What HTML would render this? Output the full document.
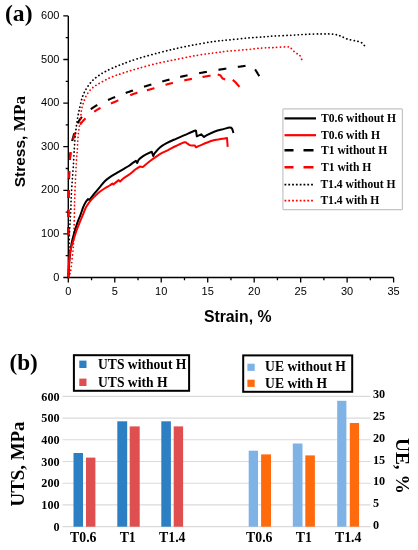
<!DOCTYPE html>
<html><head><meta charset="utf-8"><style>
html,body{margin:0;padding:0;background:#fff;width:418px;height:550px;overflow:hidden}
svg{display:block;will-change:transform}
</style></head><body>
<svg width="418" height="550" viewBox="0 0 418 550">
<rect width="418" height="550" fill="#fff"/>
<text x="5.0" y="21.2" font-family='"Liberation Serif", serif' font-weight="bold" font-size="23.6">(a)</text>
<path d="M68.3,15.9 V277.5 H393.60" fill="none" stroke="#000" stroke-width="1.4"/>
<path d="M63.30,277.50H68.3 M65.70,255.70H68.3 M63.30,233.90H68.3 M65.70,212.10H68.3 M63.30,190.30H68.3 M65.70,168.50H68.3 M63.30,146.70H68.3 M65.70,124.90H68.3 M63.30,103.10H68.3 M65.70,81.30H68.3 M63.30,59.50H68.3 M65.70,37.70H68.3 M63.30,15.90H68.3 M68.30,277.5V282.50 M91.54,277.5V280.30 M114.77,277.5V282.50 M138.01,277.5V280.30 M161.24,277.5V282.50 M184.48,277.5V280.30 M207.71,277.5V282.50 M230.95,277.5V280.30 M254.19,277.5V282.50 M277.42,277.5V280.30 M300.66,277.5V282.50 M323.89,277.5V280.30 M347.13,277.5V282.50 M370.36,277.5V280.30 M393.60,277.5V282.50" fill="none" stroke="#000" stroke-width="1.3"/>
<text x="59.4" y="280.60" text-anchor="end" font-family='"Liberation Sans", sans-serif' font-size="11">0</text>
<text x="59.4" y="237.00" text-anchor="end" font-family='"Liberation Sans", sans-serif' font-size="11">100</text>
<text x="59.4" y="193.40" text-anchor="end" font-family='"Liberation Sans", sans-serif' font-size="11">200</text>
<text x="59.4" y="149.80" text-anchor="end" font-family='"Liberation Sans", sans-serif' font-size="11">300</text>
<text x="59.4" y="106.20" text-anchor="end" font-family='"Liberation Sans", sans-serif' font-size="11">400</text>
<text x="59.4" y="62.60" text-anchor="end" font-family='"Liberation Sans", sans-serif' font-size="11">500</text>
<text x="59.4" y="19.00" text-anchor="end" font-family='"Liberation Sans", sans-serif' font-size="11">600</text>
<text x="68.30" y="295.3" text-anchor="middle" font-family='"Liberation Sans", sans-serif' font-size="11">0</text>
<text x="114.77" y="295.3" text-anchor="middle" font-family='"Liberation Sans", sans-serif' font-size="11">5</text>
<text x="161.24" y="295.3" text-anchor="middle" font-family='"Liberation Sans", sans-serif' font-size="11">10</text>
<text x="207.71" y="295.3" text-anchor="middle" font-family='"Liberation Sans", sans-serif' font-size="11">15</text>
<text x="254.19" y="295.3" text-anchor="middle" font-family='"Liberation Sans", sans-serif' font-size="11">20</text>
<text x="300.66" y="295.3" text-anchor="middle" font-family='"Liberation Sans", sans-serif' font-size="11">25</text>
<text x="347.13" y="295.3" text-anchor="middle" font-family='"Liberation Sans", sans-serif' font-size="11">30</text>
<text x="393.60" y="295.3" text-anchor="middle" font-family='"Liberation Sans", sans-serif' font-size="11">35</text>
<text x="203.9" y="321.8" font-family='"Liberation Sans", sans-serif' font-weight="bold" font-size="15.8">Strain, %</text>
<text transform="translate(25.3,187.3) rotate(-90)" font-weight="bold"><tspan font-family='"Liberation Sans", sans-serif' font-size="15.5">Stress, </tspan><tspan font-family='"Liberation Serif", serif' font-size="17.3">MPa</tspan></text>
<path d="M68.39,234.46 L68.39,232.90 L68.40,231.41 L68.40,230.00 L68.40,228.63 L68.41,227.28 M68.44,217.04 L68.44,215.82 L68.45,214.62 L68.45,213.43 L68.46,212.26 L68.46,211.09 L68.47,209.94 M68.56,198.04 L68.57,197.02 L68.59,196.00 L68.60,195.00 L68.62,194.01 L68.63,193.03 L68.65,192.07 L68.66,191.13 L68.68,190.20 M68.94,179.16 L68.96,178.37 L68.99,177.59 L69.02,176.82 L69.04,176.05 L69.07,175.28 L69.10,174.52 L69.13,173.76 L69.16,173.01 L69.20,172.25 L69.23,171.50 M69.88,159.99 L69.92,159.31 L69.97,158.64 L70.02,157.98 L70.08,157.33 L70.13,156.68 L70.18,156.04 L70.24,155.40 L70.29,154.77 L70.35,154.15 L70.41,153.54 L70.47,152.93 L70.53,152.33 M72.20,141.04 L72.30,140.61 L72.39,140.17 L72.50,139.73 L72.60,139.29 L72.72,138.84 L72.83,138.39 L72.96,137.93 L73.08,137.46 L73.22,136.98 L73.35,136.50 L73.50,136.00 L73.65,135.49 L73.79,134.98 L73.94,134.45 L74.09,133.92 L74.24,133.39 M77.62,123.39 L77.89,122.86 L78.16,122.33 L78.44,121.81 L78.74,121.29 L79.04,120.79 L79.37,120.29 L79.70,119.80 L80.05,119.32 L80.41,118.84 L80.79,118.36 L81.18,117.89 L81.58,117.42 L81.99,116.96 M90.80,109.24 L91.33,108.85 L91.87,108.47 L92.40,108.09 L92.93,107.72 L93.47,107.36 L94.00,107.00 L94.54,106.65 L95.08,106.30 L95.63,105.96 L96.18,105.63 L96.74,105.30 L97.31,104.98 M108.02,99.93 L108.62,99.67 L109.22,99.42 L109.82,99.16 L110.42,98.91 L111.01,98.65 L111.60,98.40 L112.19,98.15 L112.78,97.90 L113.36,97.65 L113.95,97.41 L114.54,97.17 L115.12,96.93 M125.71,92.97 L126.31,92.76 L126.90,92.55 L127.50,92.34 L128.10,92.13 L128.70,91.91 L129.30,91.70 L129.90,91.49 L130.51,91.27 L131.11,91.06 L131.72,90.85 L132.33,90.64 L132.94,90.43 M144.02,86.75 L144.64,86.55 L145.25,86.36 L145.86,86.17 L146.48,85.98 L147.09,85.79 L147.70,85.60 L148.31,85.41 L148.92,85.23 L149.53,85.05 L150.14,84.86 L150.75,84.68 L151.36,84.50 M162.28,81.46 L162.89,81.30 L163.49,81.14 L164.09,80.98 L164.70,80.82 L165.30,80.66 L165.90,80.50 L166.50,80.34 L167.10,80.18 L167.70,80.03 L168.29,79.87 L168.89,79.72 L169.48,79.56 M180.14,76.92 L180.74,76.78 L181.35,76.64 L181.96,76.50 L182.57,76.37 L183.18,76.23 L183.80,76.10 L184.42,75.97 L185.04,75.84 L185.67,75.71 L186.29,75.58 L186.92,75.45 L187.56,75.32 M199.13,73.19 L199.78,73.07 L200.42,72.96 L201.07,72.84 L201.71,72.73 L202.36,72.61 L203.00,72.50 L203.64,72.39 L204.28,72.27 L204.93,72.16 L205.57,72.04 L206.21,71.93 L206.86,71.81 M218.44,69.82 L219.09,69.72 L219.73,69.61 L220.37,69.51 L221.02,69.40 L221.66,69.30 L222.30,69.20 L222.95,69.10 L223.61,68.99 L224.28,68.89 L224.96,68.79 L225.64,68.68 L226.33,68.58 M237.82,66.91 L238.41,66.82 L238.98,66.75 L239.53,66.67 L240.05,66.60 L240.56,66.53 L241.04,66.46 L241.50,66.40 L241.93,66.34 L242.35,66.28 L242.74,66.23 L243.11,66.18 L243.47,66.13 L243.80,66.08 L244.13,66.03 L244.43,65.99 L244.72,65.94 L245.00,65.90 L245.26,65.87 L245.51,65.83 M255.10,69.40 L255.21,69.56 L255.33,69.74 L255.45,69.93 L255.59,70.13 L255.73,70.35 L255.87,70.57 L256.02,70.81 L256.18,71.05 L256.34,71.31 L256.50,71.56 L256.66,71.83 L256.83,72.09 L257.00,72.36 L257.16,72.63 L257.33,72.90 L257.50,73.17 L257.66,73.43 L257.82,73.70 L257.98,73.95 L258.13,74.20 L258.28,74.45 L258.43,74.68 L258.56,74.91 L258.70,75.12 L258.82,75.32 L258.93,75.51 L259.04,75.68 L259.14,75.84 L259.22,75.98 L259.30,76.10" fill="none" stroke="#000" stroke-width="2.1"/>
<path d="M68.51,235.68 L68.50,234.36 L68.50,233.13 L68.50,232.00 L68.50,230.95 L68.50,229.96 L68.49,229.03 L68.49,228.14 M68.48,216.88 L68.48,216.38 L68.48,215.86 L68.48,215.33 L68.49,214.78 L68.49,214.21 L68.50,213.62 L68.50,213.00 L68.51,212.37 L68.51,211.73 L68.52,211.10 L68.52,210.47 L68.53,209.84 L68.54,209.20 M68.73,197.82 L68.74,197.18 L68.75,196.55 L68.76,195.91 L68.78,195.28 L68.79,194.64 L68.80,194.00 L68.81,193.36 L68.82,192.72 L68.83,192.08 L68.84,191.44 L68.85,190.79 L68.86,190.15 M69.08,178.53 L69.10,177.89 L69.12,177.25 L69.14,176.61 L69.16,175.97 L69.18,175.33 L69.20,174.70 L69.22,174.07 L69.24,173.44 L69.26,172.81 L69.28,172.19 L69.30,171.56 L69.31,170.94 M69.80,159.80 L69.85,159.17 L69.91,158.54 L69.98,157.91 L70.04,157.28 L70.12,156.64 L70.20,156.00 L70.28,155.35 L70.37,154.70 L70.46,154.04 L70.55,153.38 L70.64,152.71 L70.74,152.03 M73.07,139.86 L73.24,139.22 L73.42,138.60 L73.61,137.98 L73.80,137.38 L74.00,136.78 L74.20,136.20 L74.41,135.63 L74.62,135.06 L74.83,134.50 L75.05,133.95 L75.27,133.41 L75.50,132.87 L75.73,132.34 M80.12,124.54 L80.45,124.08 L80.78,123.63 L81.13,123.18 L81.49,122.73 L81.85,122.29 L82.22,121.84 L82.60,121.40 L82.99,120.96 L83.39,120.52 L83.80,120.09 L84.23,119.65 L84.66,119.22 L85.10,118.80 L85.55,118.37 M94.10,111.73 L94.63,111.38 L95.17,111.04 L95.70,110.69 L96.23,110.36 L96.77,110.03 L97.30,109.70 L97.83,109.38 L98.37,109.07 L98.91,108.77 L99.45,108.48 L100.00,108.19 L100.54,107.91 M110.87,103.51 L111.47,103.27 L112.07,103.02 L112.68,102.77 L113.28,102.52 L113.89,102.26 L114.50,102.00 L115.12,101.73 L115.74,101.46 L116.37,101.18 L117.00,100.90 L117.65,100.62 L118.29,100.33 M130.23,95.22 L130.87,94.96 L131.51,94.72 L132.14,94.48 L132.77,94.24 L133.39,94.02 L134.00,93.80 L134.60,93.59 L135.20,93.39 L135.79,93.20 L136.37,93.01 L136.95,92.83 L137.52,92.66 M146.91,90.25 L147.47,90.11 L148.03,89.97 L148.60,89.83 L149.16,89.68 L149.74,89.52 L150.32,89.36 L150.90,89.20 L151.49,89.03 L152.08,88.86 L152.67,88.69 L153.27,88.51 L153.86,88.33 L154.46,88.15 M165.49,84.82 L166.10,84.64 L166.72,84.47 L167.34,84.30 L167.96,84.13 L168.58,83.96 L169.20,83.80 L169.82,83.64 L170.44,83.48 L171.06,83.33 L171.68,83.17 L172.31,83.02 L172.93,82.87 M184.26,80.36 L184.88,80.23 L185.51,80.11 L186.13,79.98 L186.76,79.85 L187.38,79.73 L188.00,79.60 L188.63,79.47 L189.27,79.35 L189.92,79.22 L190.58,79.10 L191.25,78.97 L191.93,78.84 M202.49,76.98 L203.06,76.88 L203.61,76.79 L204.14,76.69 L204.64,76.61 L205.12,76.52 L205.57,76.45 L206.00,76.37 L206.40,76.30 L206.77,76.23 L207.12,76.17 L207.44,76.12 L207.74,76.06 L208.02,76.01 L208.28,75.97 L208.52,75.93 L208.74,75.89 L208.94,75.85 L209.13,75.82 L209.30,75.79 L209.45,75.76 L209.60,75.74 L209.73,75.71 L209.85,75.69 L209.96,75.68 L210.06,75.66 L210.15,75.64 L210.24,75.63 L210.32,75.61 L210.39,75.60 L210.46,75.59 L210.53,75.58 M217.7,74.4 L220.2,75.2 L222.7,78.6 L225.2,79.4 M232.8,79.9 L235.5,82.2 L239.5,86.9" fill="none" stroke="#f00" stroke-width="2.1" stroke-linejoin="round"/>
<path d="M68.40,277.50 C68.43,276.25 68.52,273.75 68.60,270.00 C68.68,266.25 68.82,259.53 68.90,255.00 C68.98,250.47 68.98,246.97 69.10,242.80 C69.22,238.63 69.40,233.97 69.60,230.00 C69.80,226.03 70.08,222.83 70.30,219.00 C70.52,215.17 70.73,210.95 70.90,207.00 C71.07,203.05 71.07,199.80 71.30,195.30 C71.53,190.80 71.95,185.00 72.30,180.00 C72.65,175.00 73.12,169.63 73.40,165.30 C73.68,160.97 73.82,157.23 74.00,154.00 C74.18,150.77 74.27,149.15 74.50,145.90 C74.73,142.65 75.10,137.68 75.40,134.50 C75.70,131.32 75.95,129.45 76.30,126.80 C76.65,124.15 77.05,121.25 77.50,118.60 C77.95,115.95 78.32,114.05 79.00,110.90 C79.68,107.75 80.77,102.68 81.60,99.70 C82.43,96.72 83.05,95.08 84.00,93.00 C84.95,90.92 85.95,89.20 87.30,87.20 C88.65,85.20 90.35,82.83 92.10,81.00 C93.85,79.17 95.57,77.80 97.80,76.20 C100.03,74.60 102.43,73.02 105.50,71.40 C108.57,69.78 113.30,67.75 116.20,66.50 C119.10,65.25 119.40,65.18 122.90,63.90 C126.40,62.62 131.15,60.67 137.20,58.80 C143.25,56.93 152.37,54.48 159.20,52.70 C166.03,50.92 171.85,49.50 178.20,48.10 C184.55,46.70 191.27,45.42 197.30,44.30 C203.33,43.18 209.20,42.12 214.40,41.40 C219.60,40.68 223.07,40.55 228.50,40.00 C233.93,39.45 241.20,38.62 247.00,38.10 C252.80,37.58 258.88,37.23 263.30,36.90 C267.72,36.57 269.02,36.37 273.50,36.10 C277.98,35.83 284.95,35.58 290.20,35.30 C295.45,35.02 299.75,34.63 305.00,34.40 C310.25,34.17 316.95,33.92 321.70,33.90 C326.45,33.88 330.42,33.97 333.50,34.30 C336.58,34.63 337.97,35.13 340.20,35.90 C342.43,36.67 344.40,38.07 346.90,38.90 C349.40,39.73 352.97,40.37 355.20,40.90 C357.43,41.43 358.95,41.55 360.30,42.10 C361.65,42.65 362.52,43.45 363.30,44.20 C364.08,44.95 364.72,46.20 365.00,46.60" fill="none" stroke="#000" stroke-width="1.75" stroke-linecap="round" stroke-dasharray="0.15 3.65"/>
<path d="M68.80,277.50 C68.97,276.95 69.50,275.23 69.80,274.20 C70.10,273.17 70.30,273.00 70.60,271.30 C70.90,269.60 71.30,266.62 71.60,264.00 C71.90,261.38 72.12,258.27 72.40,255.60 C72.68,252.93 73.10,250.43 73.30,248.00 C73.50,245.57 73.48,244.00 73.60,241.00 C73.72,238.00 73.88,233.83 74.00,230.00 C74.12,226.17 74.22,221.83 74.30,218.00 C74.38,214.17 74.43,210.23 74.50,207.00 C74.57,203.77 74.60,201.82 74.70,198.60 C74.80,195.38 74.95,191.33 75.10,187.70 C75.25,184.07 75.42,180.43 75.60,176.80 C75.78,173.17 76.02,169.20 76.20,165.90 C76.38,162.60 76.53,159.35 76.70,157.00 C76.87,154.65 77.05,153.88 77.20,151.80 C77.35,149.72 77.45,147.07 77.60,144.50 C77.75,141.93 77.87,138.97 78.10,136.40 C78.33,133.83 78.65,131.83 79.00,129.10 C79.35,126.37 79.85,122.52 80.20,120.00 C80.55,117.48 80.87,115.80 81.10,114.00 C81.33,112.20 81.20,111.12 81.60,109.20 C82.00,107.28 82.70,104.80 83.50,102.50 C84.30,100.20 85.13,97.63 86.40,95.40 C87.67,93.17 89.35,90.87 91.10,89.10 C92.85,87.33 94.82,86.15 96.90,84.80 C98.98,83.45 101.22,82.27 103.60,81.00 C105.98,79.73 108.15,78.47 111.20,77.20 C114.25,75.93 117.57,74.82 121.90,73.40 C126.23,71.98 130.98,70.45 137.20,68.70 C143.42,66.95 152.37,64.50 159.20,62.90 C166.03,61.30 171.85,60.37 178.20,59.10 C184.55,57.83 191.27,56.35 197.30,55.30 C203.33,54.25 209.17,53.50 214.40,52.80 C219.63,52.10 223.27,51.63 228.70,51.10 C234.13,50.57 241.40,50.12 247.00,49.60 C252.60,49.08 257.88,48.33 262.30,48.00 C266.72,47.67 269.12,47.77 273.50,47.60 C277.88,47.43 285.53,46.72 288.60,47.00 C291.67,47.28 290.78,48.35 291.90,49.30 C293.02,50.25 294.18,51.87 295.30,52.70 C296.42,53.53 297.73,53.67 298.60,54.30 C299.47,54.93 299.97,55.62 300.50,56.50 C301.03,57.38 301.58,59.08 301.80,59.60" fill="none" stroke="#f00" stroke-width="1.75" stroke-linecap="round" stroke-dasharray="0.15 3.65"/>
<path d="M68.50,277.50 C68.57,275.92 68.68,271.58 68.90,268.00 C69.12,264.42 69.45,259.50 69.80,256.00 C70.15,252.50 70.63,249.43 71.00,247.00 C71.37,244.57 71.58,243.32 72.00,241.40 C72.42,239.48 72.90,237.68 73.50,235.50 C74.10,233.32 74.88,230.60 75.60,228.30 C76.32,226.00 76.98,223.95 77.80,221.70 C78.62,219.45 79.60,217.22 80.50,214.80 C81.40,212.38 82.35,209.28 83.20,207.20 C84.05,205.12 84.80,203.67 85.60,202.30 C86.40,200.93 87.60,199.55 88.00,199.00 L88.00,199.00 L89.40,200.00 L89.40,200.00 C89.60,199.73 89.65,199.62 90.60,198.40 C91.55,197.18 93.45,194.72 95.10,192.70 C96.75,190.68 98.88,188.22 100.50,186.30 C102.12,184.38 103.28,182.68 104.80,181.20 C106.32,179.72 108.00,178.53 109.60,177.40 C111.20,176.27 112.82,175.37 114.40,174.40 C115.98,173.43 117.52,172.53 119.10,171.60 C120.68,170.67 122.30,169.73 123.90,168.80 C125.50,167.87 127.10,167.07 128.70,166.00 C130.30,164.93 132.30,163.27 133.50,162.40 C134.70,161.53 135.50,161.07 135.90,160.80 L135.90,160.80 L137.20,163.00 L137.20,163.00 C137.38,162.58 137.87,161.23 138.30,160.50 C138.73,159.77 138.58,159.58 139.80,158.60 C141.02,157.62 143.60,155.75 145.60,154.60 C147.60,153.45 150.77,152.18 151.80,151.70 L151.80,151.70 L153.20,156.00 L153.20,156.00 C153.52,155.45 153.98,154.13 155.10,152.70 C156.22,151.27 157.98,149.00 159.90,147.40 C161.82,145.80 163.92,144.53 166.60,143.10 C169.28,141.67 173.00,140.13 176.00,138.80 C179.00,137.47 181.48,136.43 184.60,135.10 C187.72,133.77 192.78,131.43 194.70,130.80 C196.62,130.17 195.87,131.22 196.10,131.30 L196.10,131.30 L196.80,136.30 L196.80,136.30 L201.10,134.30 L201.10,134.30 L204.00,137.00 L204.00,137.00 C204.48,136.68 205.10,136.02 206.90,135.10 C208.70,134.18 212.05,132.50 214.80,131.50 C217.55,130.50 220.90,129.75 223.40,129.10 C225.90,128.45 228.37,127.68 229.80,127.60 C231.23,127.52 231.40,127.70 232.00,128.60 C232.60,129.50 233.17,132.27 233.40,133.00" fill="none" stroke="#000" stroke-width="2.0" stroke-linejoin="round"/>
<path d="M68.60,277.50 C68.62,276.08 68.62,271.62 68.70,269.00 C68.78,266.38 68.92,264.22 69.10,261.80 C69.28,259.38 69.43,256.92 69.80,254.50 C70.17,252.08 70.82,249.25 71.30,247.30 C71.78,245.35 72.10,244.77 72.70,242.80 C73.30,240.83 74.17,237.80 74.90,235.50 C75.63,233.20 76.25,231.30 77.10,229.00 C77.95,226.70 79.02,224.12 80.00,221.70 C80.98,219.28 82.00,216.90 83.00,214.50 C84.00,212.10 84.73,209.62 86.00,207.30 C87.27,204.98 88.60,202.95 90.60,200.60 C92.60,198.25 95.68,195.22 98.00,193.20 C100.32,191.18 102.57,189.78 104.50,188.50 C106.43,187.22 108.28,186.33 109.60,185.50 C110.92,184.67 111.93,183.83 112.40,183.50 L112.40,183.50 L113.40,184.40 L113.40,184.40 L118.70,180.10 L118.70,180.10 L120.10,181.60 L120.10,181.60 C120.58,181.12 121.57,179.82 123.00,178.70 C124.43,177.58 126.95,176.17 128.70,174.90 C130.45,173.63 132.28,172.08 133.50,171.10 C134.72,170.12 134.95,169.75 136.00,169.00 C137.05,168.25 139.17,167.00 139.80,166.60 L139.80,166.60 L142.70,167.10 L142.70,167.10 C143.98,166.05 147.53,162.97 150.40,160.80 C153.27,158.63 157.03,155.85 159.90,154.10 C162.77,152.35 164.92,151.65 167.60,150.30 C170.28,148.95 173.17,147.33 176.00,146.00 C178.83,144.67 182.68,142.68 184.60,142.30 C186.52,141.92 186.53,143.18 187.50,143.70 C188.47,144.22 189.20,145.12 190.40,145.40 C191.60,145.68 193.98,145.40 194.70,145.40 L194.70,145.40 L196.10,147.30 L196.10,147.30 L199.00,145.90 L199.00,145.90 C201.15,145.05 208.32,141.93 211.90,140.80 C215.48,139.67 217.98,139.57 220.50,139.10 C223.02,138.63 225.92,138.18 227.00,138.00 L227.00,138.00 L227.70,146.90" fill="none" stroke="#f00" stroke-width="2.0" stroke-linejoin="round"/>
<rect x="282.9" y="108.8" width="119.5" height="100.9" rx="1" fill="#fff" stroke="#c4c4c4" stroke-width="1.2"/>
<path d="M284.5,118.4H316" stroke="#000" stroke-width="2.2"/>
<text x="321.0" y="121.9" font-family='"Liberation Serif", serif' font-weight="bold" font-size="11.6">T0.6 without H</text>
<path d="M284.5,135.2H316" stroke="#f00" stroke-width="2.2"/>
<text x="321.0" y="138.7" font-family='"Liberation Serif", serif' font-weight="bold" font-size="11.6">T0.6 with H</text>
<path d="M284.5,150.2H293.5 M303.5,150.2H313.5" stroke="#000" stroke-width="2.6"/>
<text x="321.0" y="153.7" font-family='"Liberation Serif", serif' font-weight="bold" font-size="11.6">T1 without H</text>
<path d="M284.5,167.2H293.5 M303.5,167.2H313.5" stroke="#f00" stroke-width="2.6"/>
<text x="321.0" y="170.7" font-family='"Liberation Serif", serif' font-weight="bold" font-size="11.6">T1 with H</text>
<path d="M284.5,184.7H313" stroke="#000" stroke-width="1.8" stroke-dasharray="1.8 2"/>
<text x="320.4" y="188.2" font-family='"Liberation Serif", serif' font-weight="bold" font-size="11.6">T1.4 without H</text>
<path d="M284.5,200.7H313" stroke="#f00" stroke-width="1.8" stroke-dasharray="1.8 2"/>
<text x="320.4" y="204.2" font-family='"Liberation Serif", serif' font-weight="bold" font-size="11.6">T1.4 with H</text>
<text x="9.5" y="369.8" font-family='"Liberation Serif", serif' font-weight="bold" font-size="23.2">(b)</text>
<path d="M62.5,526.70H370.5 M62.5,504.97H370.5 M62.5,483.23H370.5 M62.5,461.50H370.5 M62.5,439.77H370.5 M62.5,418.03H370.5 M62.5,396.30H370.5" stroke="#dadada" stroke-width="1.2"/>
<text x="59.6" y="530.90" text-anchor="end" font-family='"Liberation Serif", serif' font-weight="bold" font-size="12.2">0</text>
<text x="59.6" y="509.17" text-anchor="end" font-family='"Liberation Serif", serif' font-weight="bold" font-size="12.2">100</text>
<text x="59.6" y="487.43" text-anchor="end" font-family='"Liberation Serif", serif' font-weight="bold" font-size="12.2">200</text>
<text x="59.6" y="465.70" text-anchor="end" font-family='"Liberation Serif", serif' font-weight="bold" font-size="12.2">300</text>
<text x="59.6" y="443.97" text-anchor="end" font-family='"Liberation Serif", serif' font-weight="bold" font-size="12.2">400</text>
<text x="59.6" y="422.23" text-anchor="end" font-family='"Liberation Serif", serif' font-weight="bold" font-size="12.2">500</text>
<text x="59.6" y="400.50" text-anchor="end" font-family='"Liberation Serif", serif' font-weight="bold" font-size="12.2">600</text>
<text x="373" y="528.70" font-family='"Liberation Serif", serif' font-weight="bold" font-size="12.2">0</text>
<text x="373" y="506.97" font-family='"Liberation Serif", serif' font-weight="bold" font-size="12.2">5</text>
<text x="373" y="485.23" font-family='"Liberation Serif", serif' font-weight="bold" font-size="12.2">10</text>
<text x="373" y="463.50" font-family='"Liberation Serif", serif' font-weight="bold" font-size="12.2">15</text>
<text x="373" y="441.77" font-family='"Liberation Serif", serif' font-weight="bold" font-size="12.2">20</text>
<text x="373" y="420.03" font-family='"Liberation Serif", serif' font-weight="bold" font-size="12.2">25</text>
<text x="373" y="398.30" font-family='"Liberation Serif", serif' font-weight="bold" font-size="12.2">30</text>
<text transform="translate(24.2,506.5) rotate(-90)" font-family='"Liberation Serif", serif' font-weight="bold" font-size="18.9">UTS, MPa</text>
<text transform="translate(396.4,437.9) rotate(90)" font-family='"Liberation Serif", serif' font-weight="bold" font-size="19.4">UE, %</text>
<rect x="73.5" y="453.0" width="9.5" height="73.7" fill="#2b7fc2"/>
<rect x="86.0" y="457.6" width="9.4" height="69.1" fill="#e04f4f"/>
<rect x="117.3" y="421.3" width="9.9" height="105.4" fill="#2b7fc2"/>
<rect x="129.7" y="426.4" width="10.0" height="100.3" fill="#e04f4f"/>
<rect x="161.3" y="421.3" width="9.6" height="105.4" fill="#2b7fc2"/>
<rect x="173.7" y="426.4" width="9.4" height="100.3" fill="#e04f4f"/>
<rect x="248.7" y="450.7" width="9.3" height="76.0" fill="#7fb3e6"/>
<rect x="261.1" y="454.4" width="9.9" height="72.3" fill="#ff6a0d"/>
<rect x="292.8" y="443.5" width="9.7" height="83.2" fill="#7fb3e6"/>
<rect x="305.3" y="455.4" width="9.6" height="71.3" fill="#ff6a0d"/>
<rect x="337.2" y="400.8" width="9.2" height="125.9" fill="#7fb3e6"/>
<rect x="349.8" y="423.0" width="9.3" height="103.7" fill="#ff6a0d"/>
<text x="83.3" y="542.2" text-anchor="middle" font-family='"Liberation Serif", serif' font-weight="bold" font-size="13.8">T0.6</text>
<text x="127.7" y="542.2" text-anchor="middle" font-family='"Liberation Serif", serif' font-weight="bold" font-size="13.8">T1</text>
<text x="172.3" y="542.2" text-anchor="middle" font-family='"Liberation Serif", serif' font-weight="bold" font-size="13.8">T1.4</text>
<text x="259.3" y="542.2" text-anchor="middle" font-family='"Liberation Serif", serif' font-weight="bold" font-size="13.8">T0.6</text>
<text x="303.9" y="542.2" text-anchor="middle" font-family='"Liberation Serif", serif' font-weight="bold" font-size="13.8">T1</text>
<text x="348.2" y="542.2" text-anchor="middle" font-family='"Liberation Serif", serif' font-weight="bold" font-size="13.8">T1.4</text>
<rect x="73.9" y="355.2" width="115.2" height="35.6" fill="#fff" stroke="#000" stroke-width="2"/>
<rect x="79.3" y="360.6" width="7.2" height="7.4" fill="#2b7fc2"/>
<rect x="79.3" y="378.6" width="7.2" height="7.4" fill="#e04f4f"/>
<text x="98" y="369.3" font-family='"Liberation Serif", serif' font-weight="bold" font-size="13.6">UTS without H</text>
<text x="98" y="387" font-family='"Liberation Serif", serif' font-weight="bold" font-size="13.6">UTS with H</text>
<rect x="243.2" y="355.4" width="109" height="36.4" fill="#fff" stroke="#000" stroke-width="2"/>
<rect x="247.4" y="363.7" width="7.3" height="7.2" fill="#7fb3e6"/>
<rect x="247.4" y="379.7" width="7.3" height="7.2" fill="#ff6a0d"/>
<text x="265.1" y="370.8" font-family='"Liberation Serif", serif' font-weight="bold" font-size="13.6">UE without H</text>
<text x="265.1" y="388.2" font-family='"Liberation Serif", serif' font-weight="bold" font-size="13.6">UE with H</text>
</svg>
</body></html>
